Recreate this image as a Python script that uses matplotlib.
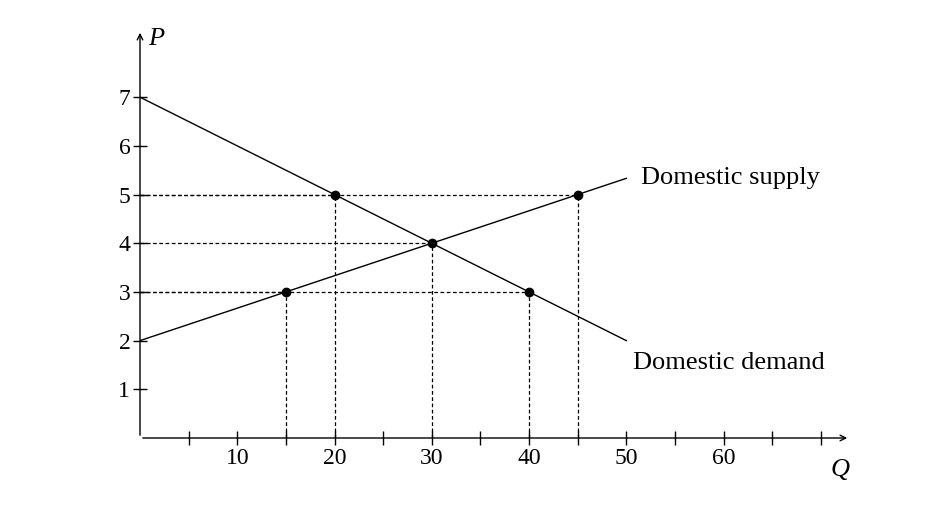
import matplotlib
matplotlib.use("Agg")
import matplotlib.pyplot as plt
import numpy as np

supply_q = [0, 50]
supply_p = [2, 2 + 50/15]
demand_q = [0, 50]
demand_p = [7, 2]
points_q = [15, 20, 30, 40, 45]
points_p = [3, 5, 4, 3, 5]
xticks = [10, 20, 30, 40, 50, 60]
yticks = [1, 2, 3, 4, 5, 6, 7]

plt.rcParams['font.family'] = ['Liberation Serif', 'DejaVu Serif']
fig = plt.figure(figsize=(9.52, 5.26), dpi=100)
ax = fig.add_axes([140/952, 1-438/526, 710/952, 408/526])
ax.set_xlim(0, 73)
ax.set_ylim(0, 8.38)
for s in ax.spines.values():
    s.set_visible(False)
ax.annotate('', xy=(73, 0), xytext=(0, 0), arrowprops=dict(arrowstyle='->', lw=1, color='black'))
ax.annotate('', xy=(0, 8.38), xytext=(0, 0), arrowprops=dict(arrowstyle='->', lw=1, color='black'))

ax.plot(supply_q, supply_p, color='black', lw=1)
ax.plot(demand_q, demand_p, color='black', lw=1)
for q, p in zip(points_q, points_p):
    ax.plot([0, q], [p, p], 'k--', lw=0.9, dashes=(3, 2))
    ax.plot([q, q], [0, p], 'k--', lw=0.9, dashes=(3, 2))
ax.plot(points_q, points_p, 'ko', ms=6)

ax.set_xticks(np.arange(5, 71, 5))
ax.set_xticklabels([str(t) if t in xticks else '' for t in range(5, 71, 5)], fontsize=17)
ax.set_yticks(yticks)
ax.set_yticklabels([str(t) for t in yticks], fontsize=17)
ax.tick_params(axis='x', direction='inout', length=10, width=1, pad=2)
ax.tick_params(axis='y', direction='inout', length=10, width=1, pad=2)

ax.text(51.5, 5.33, 'Domestic supply', fontsize=19, va='center')
ax.text(50.7, 1.55, 'Domestic demand', fontsize=19, va='center')
ax.text(71, -0.65, 'Q', fontsize=19, style='italic', va='center')
ax.text(0.8, 8.2, 'P', fontsize=19, style='italic', va='center')
fig.savefig('out.png', dpi=100)
